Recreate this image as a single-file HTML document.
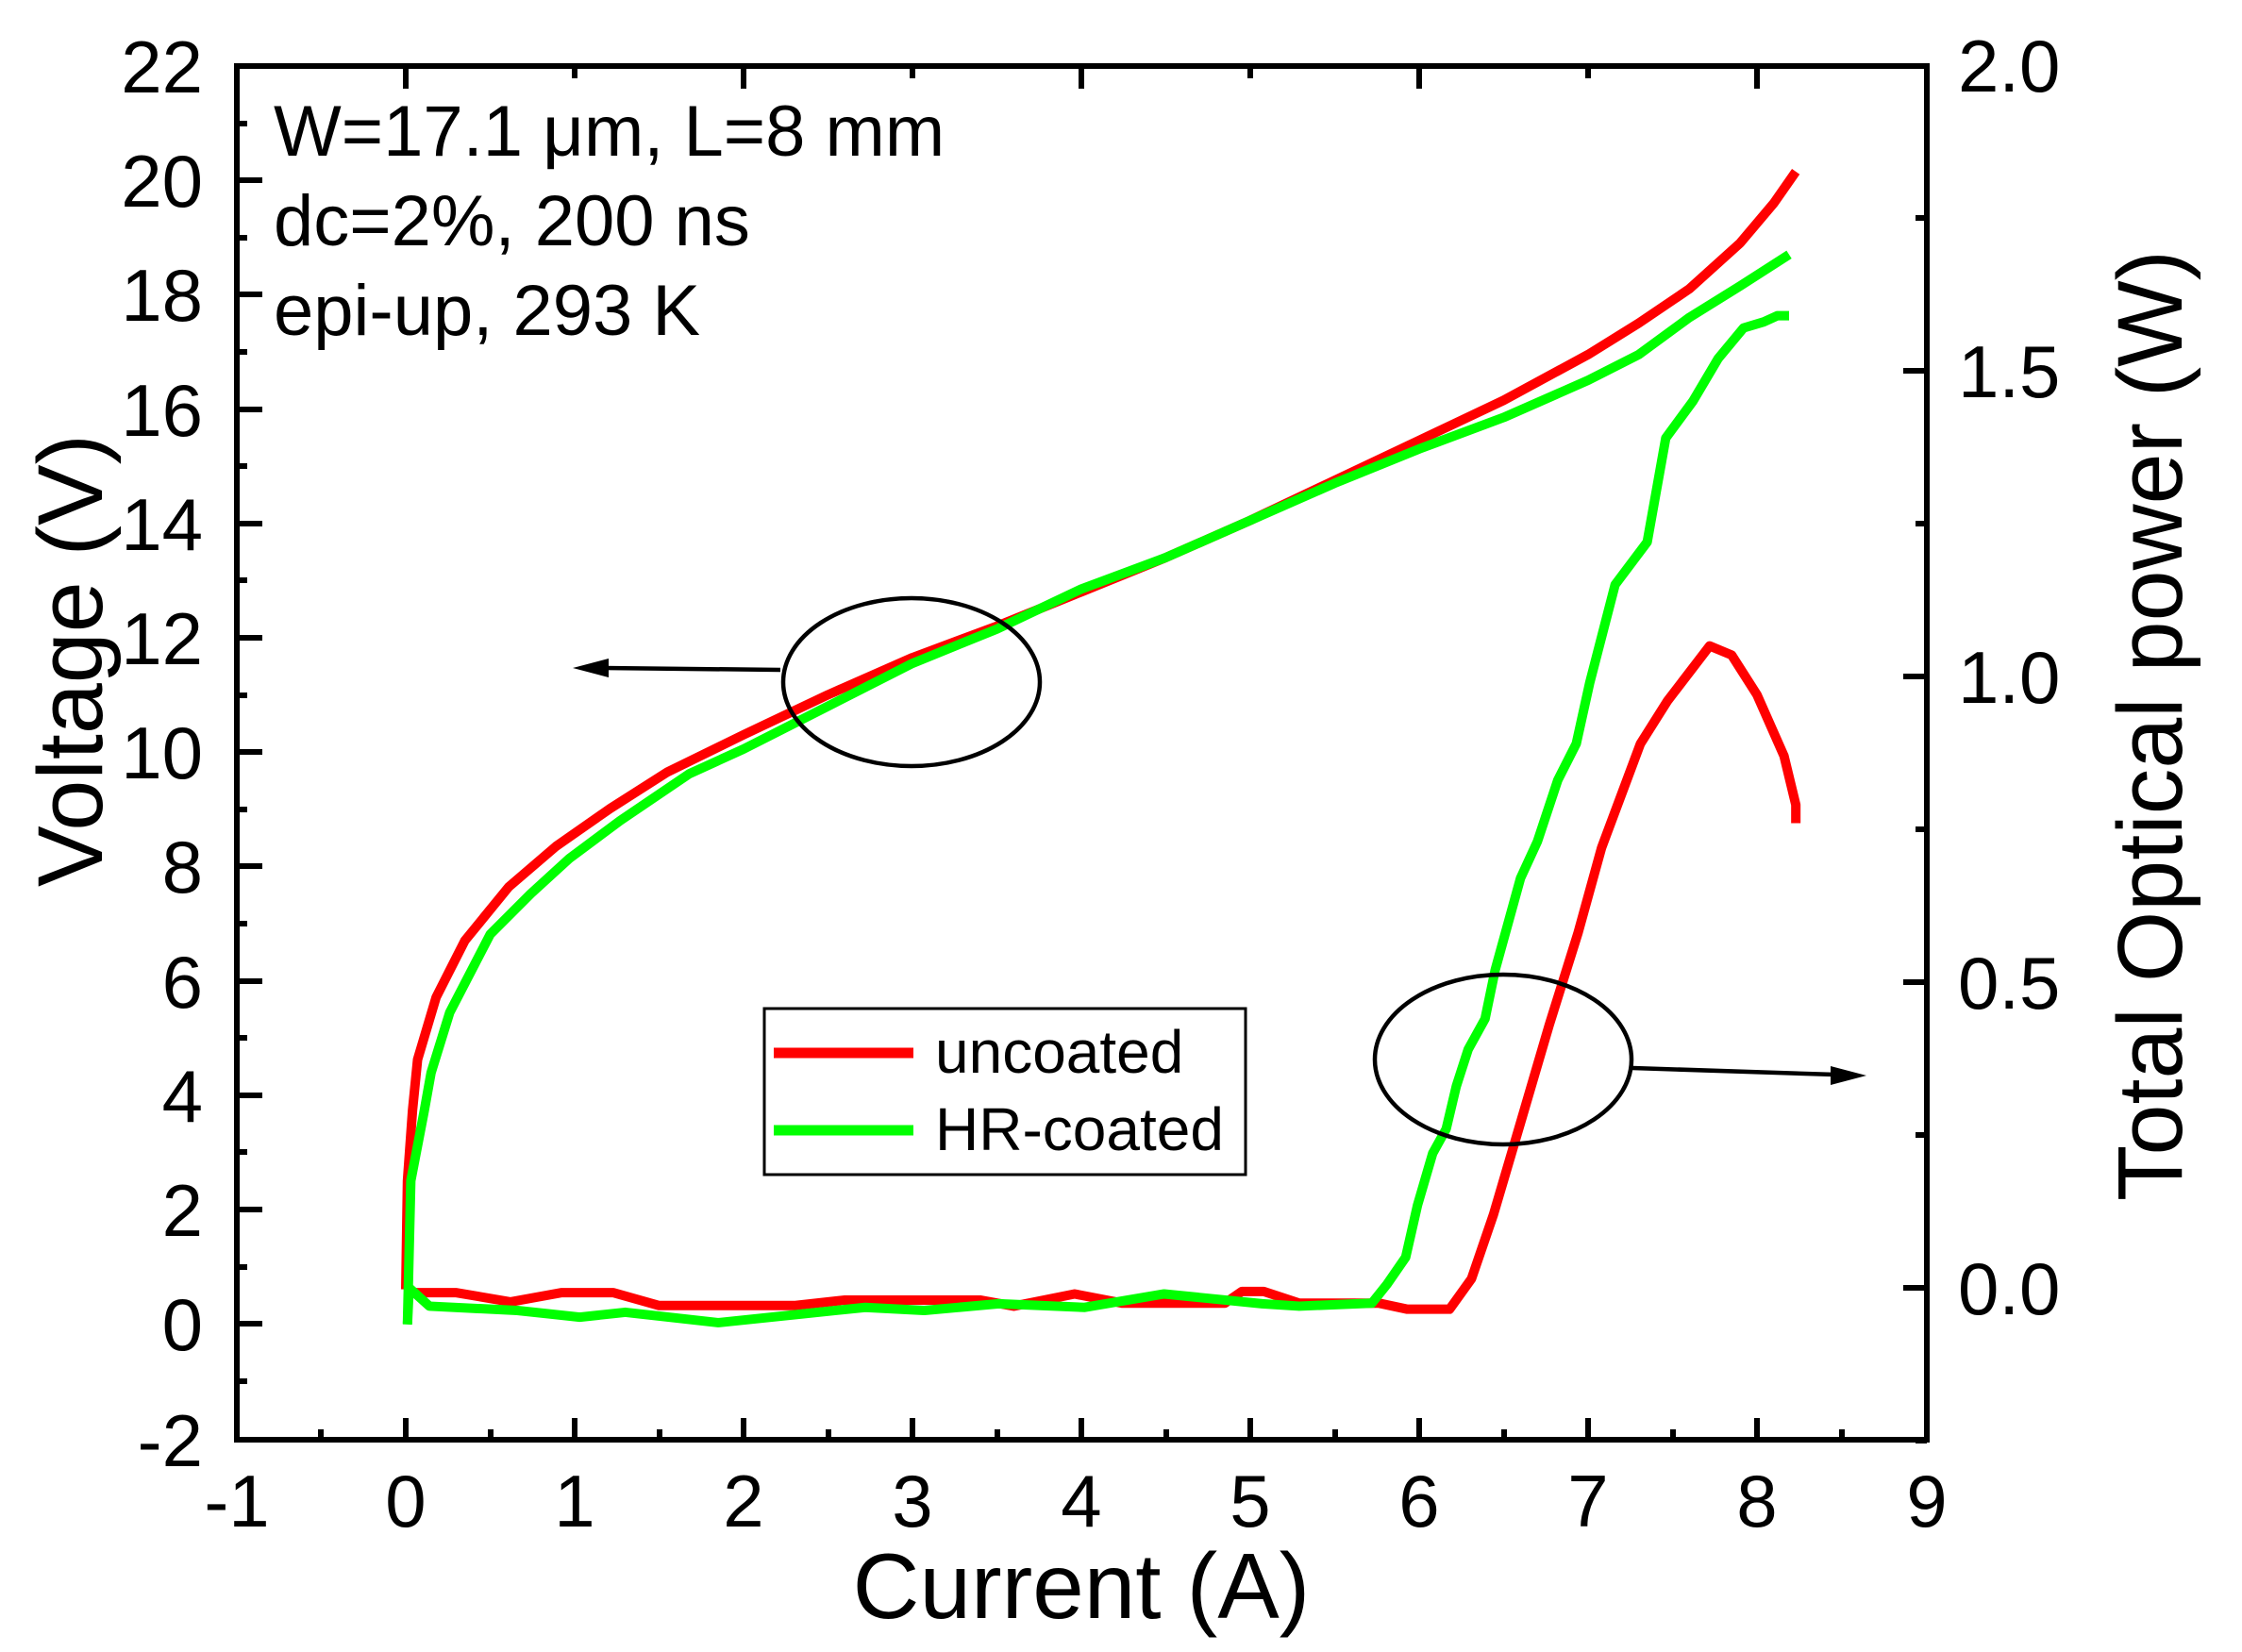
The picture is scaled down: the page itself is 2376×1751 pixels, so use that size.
<!DOCTYPE html>
<html><head><meta charset="utf-8"><style>
html,body{margin:0;padding:0;background:#fff;}
svg{display:block;}
text{font-family:"Liberation Sans",Arial,sans-serif;fill:#000;}
</style></head><body>
<svg width="2376" height="1751" viewBox="0 0 2376 1751" xmlns="http://www.w3.org/2000/svg">
<rect width="2376" height="1751" fill="#fff"/>

<!-- curves (data coords mapped) -->
<g fill="none" stroke-linejoin="round" stroke-linecap="butt">
  <!-- Voltage: px=430+179*I, py=1403-60.6*V -->
  <g transform="matrix(179 0 0 -60.6 430 1403)">
    <polyline vector-effect="non-scaling-stroke" stroke="#ff0000" stroke-width="10" points="0,0.6 0.01,2.5 0.04,3.73 0.07,4.62 0.18,5.71 0.35,6.7 0.61,7.64 0.89,8.35 1.21,9.01 1.55,9.65 2,10.3 2.5,11.0 3,11.65 3.5,12.2 4,12.8 4.5,13.4 5,14.05 5.5,14.75 6,15.45 6.5,16.15 7,16.95 7.3,17.5 7.6,18.1 7.9,18.9 8.1,19.6 8.23,20.15"/>
    <polyline vector-effect="non-scaling-stroke" stroke="#00ff00" stroke-width="10" points="0.01,0.0 0.03,2.5 0.11,3.73 0.15,4.39 0.26,5.44 0.5,6.81 0.74,7.52 0.97,8.14 1.27,8.8 1.68,9.62 2,10.05 2.5,10.8 3,11.55 3.5,12.15 4,12.85 4.5,13.4 5,14.05 5.5,14.7 6,15.3 6.5,15.85 7,16.5 7.3,16.95 7.6,17.6 7.9,18.15 8.19,18.7"/>
  </g>
  <!-- Power: py=1365-648*P -->
  <g transform="matrix(179 0 0 -648 430 1365)">
    <polyline vector-effect="non-scaling-stroke" stroke="#ff0000" stroke-width="10" points="0,-0.008 0.3,-0.008 0.62,-0.023 0.92,-0.008 1.23,-0.008 1.5,-0.029 2.3,-0.029 2.6,-0.02 3.4,-0.02 3.6,-0.03 3.96,-0.01 4.24,-0.025 4.85,-0.025 4.95,-0.006 5.08,-0.006 5.29,-0.025 5.76,-0.025 5.93,-0.035 6.18,-0.035 6.31,0.015 6.44,0.12 6.6,0.27 6.77,0.43 6.94,0.58 7.08,0.72 7.31,0.89 7.47,0.96 7.72,1.05 7.85,1.035 8.0,0.97 8.16,0.87 8.23,0.79 8.23,0.76"/>
    <polyline vector-effect="non-scaling-stroke" stroke="#00ff00" stroke-width="10" points="0.01,-0.06 0.02,0.0 0.14,-0.03 0.66,-0.037 1.03,-0.048 1.3,-0.04 1.85,-0.057 2.72,-0.032 3.07,-0.037 3.51,-0.026 4.02,-0.032 4.49,-0.01 5.07,-0.026 5.29,-0.03 5.72,-0.025 5.81,0.006 5.92,0.05 5.99,0.135 6.08,0.22 6.16,0.26 6.22,0.33 6.29,0.39 6.39,0.44 6.45,0.52 6.52,0.59 6.6,0.67 6.7,0.73 6.82,0.83 6.93,0.89 7.01,0.99 7.16,1.15 7.35,1.22 7.46,1.39 7.62,1.45 7.77,1.52 7.92,1.57 8.04,1.58 8.12,1.59 8.19,1.59"/>
  </g>
</g>

<!-- frame -->
<rect x="251" y="70" width="1791" height="1456" fill="none" stroke="#000" stroke-width="6"/>

<!-- ticks -->
<g stroke="#000" stroke-width="6">
  <!-- left major every 2V -->
  <path d="M251 70h27M251 191h27M251 312h27M251 434h27M251 555h27M251 676h27M251 797h27M251 918h27M251 1040h27M251 1161h27M251 1282h27M251 1403h27"/>
  <path d="M251 131h11M251 252h11M251 373h11M251 494h11M251 615h11M251 737h11M251 858h11M251 979h11M251 1100h11M251 1221h11M251 1343h11M251 1464h11"/>
  <!-- bottom -->
  <path d="M430 1526v-23M609 1526v-23M788 1526v-23M967 1526v-23M1146 1526v-23M1325 1526v-23M1504 1526v-23M1683 1526v-23M1862 1526v-23"/>
  <path d="M340 1526v-11M520 1526v-11M699 1526v-11M878 1526v-11M1057 1526v-11M1236 1526v-11M1415 1526v-11M1594 1526v-11M1773 1526v-11M1952 1526v-11"/>
  <!-- top -->
  <path d="M430 70v24M788 70v24M1146 70v24M1504 70v24M1862 70v24"/>
  <path d="M609 70v13M967 70v13M1325 70v13M1683 70v13"/>
  <!-- right -->
  <path d="M2042 1365h-25M2042 1041h-25M2042 717h-25M2042 393h-25"/>
  <path d="M2042 1527h-12M2042 1203h-12M2042 879h-12M2042 555h-12M2042 231h-12"/>
</g>

<!-- left tick labels -->
<g font-size="78" text-anchor="end">
  <text x="215" y="98">22</text>
  <text x="215" y="219">20</text>
  <text x="215" y="340">18</text>
  <text x="215" y="462">16</text>
  <text x="215" y="583">14</text>
  <text x="215" y="704">12</text>
  <text x="215" y="825">10</text>
  <text x="215" y="946">8</text>
  <text x="215" y="1068">6</text>
  <text x="215" y="1189">4</text>
  <text x="215" y="1310">2</text>
  <text x="215" y="1431">0</text>
  <text x="215" y="1554">-2</text>
</g>
<!-- bottom tick labels -->
<g font-size="78" text-anchor="middle">
  <text x="251" y="1618">-1</text>
  <text x="430" y="1618">0</text>
  <text x="609" y="1618">1</text>
  <text x="788" y="1618">2</text>
  <text x="967" y="1618">3</text>
  <text x="1146" y="1618">4</text>
  <text x="1325" y="1618">5</text>
  <text x="1504" y="1618">6</text>
  <text x="1683" y="1618">7</text>
  <text x="1862" y="1618">8</text>
  <text x="2042" y="1618">9</text>
</g>
<!-- right tick labels -->
<g font-size="78">
  <text x="2075" y="1393">0.0</text>
  <text x="2075" y="1069">0.5</text>
  <text x="2075" y="745">1.0</text>
  <text x="2075" y="421">1.5</text>
  <text x="2075" y="97">2.0</text>
</g>

<!-- axis titles -->
<text x="1146" y="1715" font-size="98" text-anchor="middle">Current (A)</text>
<text transform="translate(108 700) rotate(-90)" font-size="97" text-anchor="middle">Voltage (V)</text>
<text transform="translate(2312 769) rotate(-90)" font-size="97" text-anchor="middle">Total Optical power (W)</text>

<!-- annotation -->
<g font-size="76">
  <text x="290" y="165">W=17.1 μm, L=8 mm</text>
  <text x="290" y="260">dc=2%, 200 ns</text>
  <text x="290" y="355">epi-up, 293 K</text>
</g>

<!-- legend -->
<rect x="810" y="1069" width="510" height="176" fill="#fff" stroke="#000" stroke-width="3"/>
<line x1="820" y1="1116" x2="968" y2="1116" stroke="#ff0000" stroke-width="11"/>
<line x1="820" y1="1198" x2="968" y2="1198" stroke="#00ff00" stroke-width="11"/>
<text x="991" y="1137" font-size="64">uncoated</text>
<text x="991" y="1219" font-size="64">HR-coated</text>

<!-- ellipses and arrows -->
<g fill="none" stroke="#000" stroke-width="4.5">
  <ellipse cx="966" cy="723" rx="136" ry="89"/>
  <ellipse cx="1593" cy="1123" rx="136" ry="90"/>
  <line x1="827" y1="710" x2="640" y2="708"/>
  <line x1="1730" y1="1132" x2="1945" y2="1139"/>
</g>
<polygon points="607,708 645,698 645,718" fill="#000"/>
<polygon points="1978,1140 1940,1130 1940,1150" fill="#000"/>
</svg>
</body></html>
